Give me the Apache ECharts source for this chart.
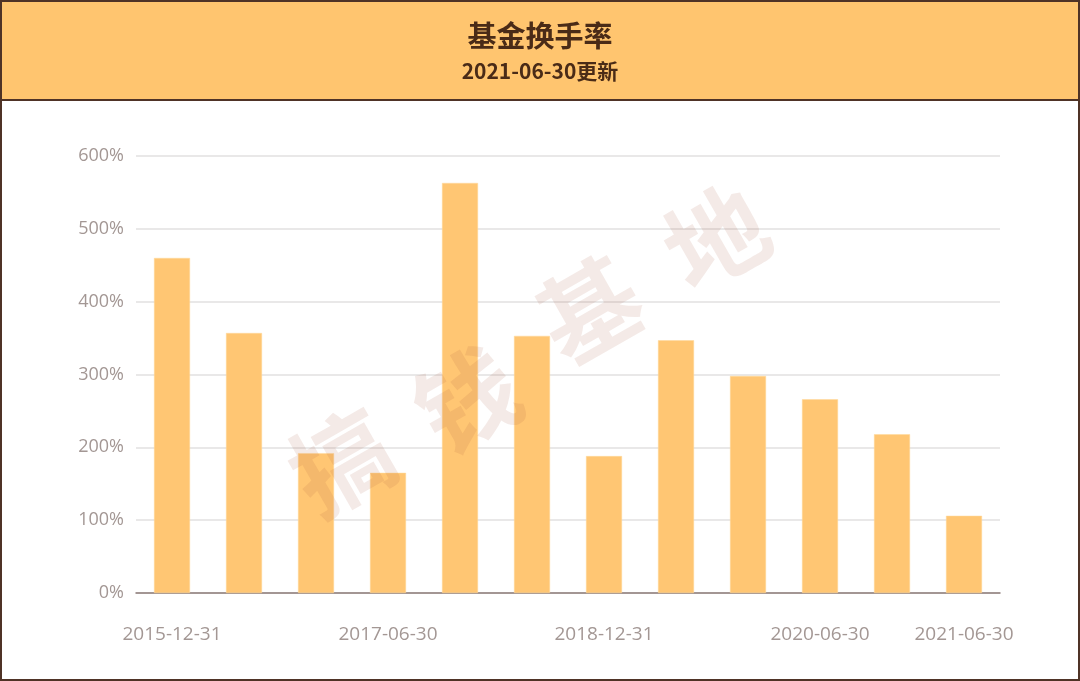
<!DOCTYPE html>
<html>
<head>
<meta charset="utf-8">
<script src="https://cdn.jsdelivr.net/npm/echarts@6/dist/echarts.min.js"></script>
<style>
html,body{margin:0;padding:0;background:#fff;}
#chart{width:1080px;height:681px;}
</style>
</head>
<body>
<div id="chart"></div>
<script>
const categories = ['2015-12-31','2016-06-30','2016-12-31','2017-06-30','2017-12-31','2018-06-30','2018-12-31','2019-06-30','2019-12-31','2020-06-30','2020-12-31','2021-06-30'];
const turnover = [460, 357, 192, 165, 563, 353, 188, 347, 298, 266, 218, 106];
const titleText = '基金换手率';
const subtitleText = '2021-06-30更新';
const watermarkChars = ['搞','钱','基','地'];

const chart = echarts.init(document.getElementById('chart'));
const showLabel = function (idx) { return idx % 3 === 0 || idx === categories.length - 1; };
const wmPos = [[342, 462], [467, 400], [590, 310], [716, 238]];

chart.setOption({
  animation: false,
  backgroundColor: '#ffffff',
  title: {
    text: titleText,
    subtext: subtitleText,
    left: 'center',
    top: 16,
    itemGap: 11,
    textStyle: { fontFamily: 'Noto Sans CJK SC', fontWeight: 'bold', fontSize: 29, color: '#4a2b17' },
    subtextStyle: { fontFamily: 'Noto Sans CJK SC', fontWeight: 'bold', fontSize: 21, color: '#4a2b17' }
  },
  graphic: [
    { type: 'rect', z: -10, silent: true, shape: { x: 0, y: 0, width: 1080, height: 100 }, style: { fill: '#FFC56F' } },
    { type: 'rect', z: 100, silent: true, shape: { x: 1, y: 1, width: 1078, height: 679 }, style: { fill: 'none', stroke: '#4f3326', lineWidth: 2 } },
    { type: 'line', z: 100, silent: true, shape: { x1: 0, y1: 100, x2: 1080, y2: 100 }, style: { stroke: '#4f3326', lineWidth: 2 } }
  ].concat(watermarkChars.map(function (ch, i) {
    return {
      type: 'text', z: 50, silent: true,
      x: wmPos[i][0], y: wmPos[i][1], rotation: 0.52,
      style: {
        text: ch, fontSize: 100, fontFamily: 'Noto Sans CJK SC', fontWeight: 'bold',
        fill: 'rgba(165,85,55,0.12)', align: 'center', verticalAlign: 'middle'
      }
    };
  })),
  grid: { left: 136, right: 80, top: 156, bottom: 88 },
  xAxis: {
    type: 'category',
    data: categories,
    axisLine: { lineStyle: { color: '#8c7b78', width: 1.5 } },
    axisTick: { alignWithLabel: true, interval: function (idx) { return showLabel(idx); }, lineStyle: { color: '#8c7b78' }, length: 6 },
    axisLabel: {
      interval: function (idx) { return showLabel(idx); },
      margin: 32, fontSize: 19, color: '#a39794', fontFamily: 'Open Sans'
    }
  },
  yAxis: {
    type: 'value',
    min: 0, max: 600, interval: 100,
    axisLine: { show: false },
    axisTick: { show: false },
    axisLabel: { formatter: '{value}%', fontSize: 18, color: '#a39794', margin: 12, fontFamily: 'Open Sans' },
    splitLine: { lineStyle: { color: '#e2e0e0', width: 1.5 } }
  },
  series: [{
    type: 'bar',
    data: turnover,
    barWidth: '50%',
    itemStyle: { color: '#FFC673', borderColor: '#FFD89A', borderWidth: 0.5 }
  }]
});
</script>
</body>
</html>
